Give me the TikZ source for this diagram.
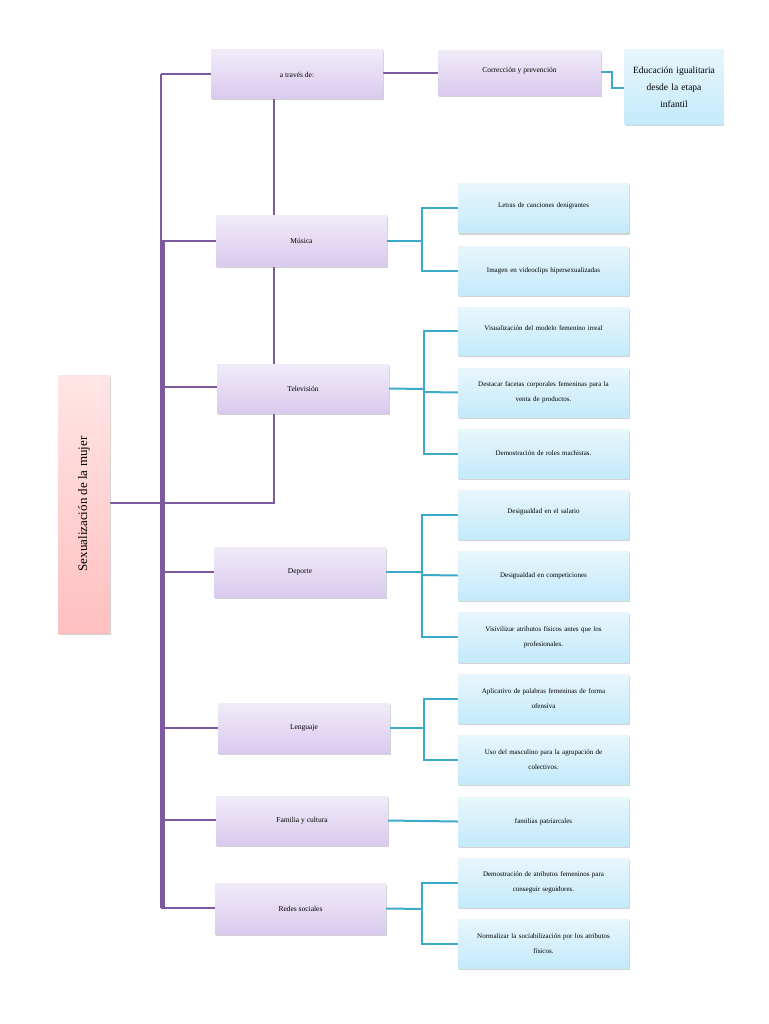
\documentclass[tikz,border=0pt]{standalone}
\usepackage{fontspec}
\setmainfont{Liberation Serif}
\usetikzlibrary{shadows}
\definecolor{pl}{RGB}{125,90,160}
\definecolor{bl}{RGB}{60,170,200}
\definecolor{ptop}{RGB}{240,235,248}
\definecolor{pbot}{RGB}{218,202,238}
\definecolor{btop}{RGB}{232,246,252}
\definecolor{bbot}{RGB}{196,234,250}
\begin{document}
\begin{tikzpicture}[x=1pt,y=-1pt,
 pbox/.style={draw=none,top color=ptop,bottom color=pbot,drop shadow={shadow xshift=1pt,shadow yshift=-1.5pt,opacity=.35},font=\fontsize{7.5}{9}\selectfont,align=center},
 bbox/.style={draw=none,top color=btop,bottom color=bbot,drop shadow={shadow xshift=1pt,shadow yshift=-1.5pt,opacity=.35},font=\fontsize{7}{15}\selectfont,align=center,text width=158pt},
 pl/.style={draw=pl,line width=2pt},
 bl/.style={draw=bl,line width=2pt}]
\useasboundingbox (0,0) rectangle (768,1024);
\newcommand\pb[6]{\node[pbox,minimum width=#3-#2,minimum height=#5-#4] (#1) at ({(#2+#3)/2},{(#4+#5)/2}) {#6};}
\newcommand\bb[4]{\node[bbox,minimum width=171,minimum height=#3-#2] (#1) at (543.5,{(#2+#3)/2}) {#4};}
% connectors behind
\draw[pl] (161,74) -- (161,908);
\draw[pl,line width=3pt] (163,240) -- (163,908);
\draw[pl] (110,503) -- (274,503) -- (274,74);
\draw[pl] (161,74) -- (211,74);
\draw[pl] (161,241) -- (216,241);
\draw[pl] (161,387) -- (217,387);
\draw[pl] (161,572) -- (214,572);
\draw[pl] (161,728) -- (218,728);
\draw[pl] (161,820) -- (216,820);
\draw[pl] (161,908) -- (215,908);
\draw[pl] (383,73) -- (438,73);
\draw[bl] (601,72) -- (612,72) -- (612,88) -- (625,88);
\pb{a}{211}{383}{50}{99}{a través de:}
\pb{mu}{216}{387}{216}{266}{Música}
\pb{tv}{217}{389}{364}{413}{Televisión}
\pb{de}{214}{386}{547}{597}{Deporte}
\pb{le}{218}{390}{703}{753}{Lenguaje}
\pb{fa}{216}{388}{796}{845}{Familia y cultura}
\pb{re}{215}{386}{883}{934}{Redes sociales}
\node[pbox,minimum width=163,minimum height=45,anchor=north] (co) at (519.5,50) {\raisebox{6pt}{Corrección y prevención}};
\node[bbox,text width=92pt,minimum width=98,minimum height=75,font=\fontsize{9.5}{17}\selectfont] (ed) at (674,87.5) {Educación igualitaria\\ desde la etapa\\ infantil};
\node[draw=none,top color=red!10!white,bottom color=red!25!white,drop shadow={shadow xshift=1pt,shadow yshift=-1.5pt,opacity=.35},minimum width=258,minimum height=52,rotate=90,font=\fontsize{13}{15}\selectfont] (m) at (84,504) {Sexualización de la mujer};
\bb{b1}{184}{233}{\raisebox{6pt}{Letras de canciones denigrantes}}
\bb{b2}{246}{295}{Imagen en videoclips hipersexualizadas}
\bb{b3}{307}{355}{\raisebox{6pt}{Visualización del modelo femenino irreal}}
\bb{b4}{368}{417}{Destacar facetas corporales femeninas para la\\ venta de productos.}
\bb{b5}{429}{478}{Demostración de roles machistas.}
\bb{b6}{490}{539}{\raisebox{6pt}{Desigualdad en el salario}}
\bb{b7}{551}{600}{Desigualdad en competiciones}
\bb{b8}{612}{662}{Visivilizar atributos físicos antes que los\\ profesionales.}
\bb{b9}{674}{723}{Aplicativo de palabras femeninas de forma\\ ofensiva}
\bb{b10}{735}{784}{Uso del masculino para la agrupación de\\ colectivos.}
\bb{b11}{797}{846}{familias patriarcales}
\bb{b12}{858}{907}{Demostración de atributos femeninos para\\ conseguir seguidores.}
\bb{b13}{919}{968}{Normalizar la sociabilización por los atributos\\ físicos.}
% blue connectors
\draw[bl] (mu.east) -- (422,241);
\draw[bl] (b1.west) -| (422,241) |- (b2.west);
\draw[bl] (tv.east) -- (424,389);
\draw[bl] (b3.west) -| (424,389) |- (b5.west); \draw[bl] (424,392) -- (b4.west);
\draw[bl] (de.east) -- (422,572);
\draw[bl] (b6.west) -| (422,572) |- (b8.west); \draw[bl] (422,575) -- (b7.west);
\draw[bl] (le.east) -- (424,728);
\draw[bl] (b9.west) -| (424,728) |- (b10.west);
\draw[bl] (fa.east) -- (422,821) -- (b11.west);
\draw[bl] (re.east) -- (422,909);
\draw[bl] (b12.west) -| (422,909) |- (b13.west);
\end{tikzpicture}
\end{document}
